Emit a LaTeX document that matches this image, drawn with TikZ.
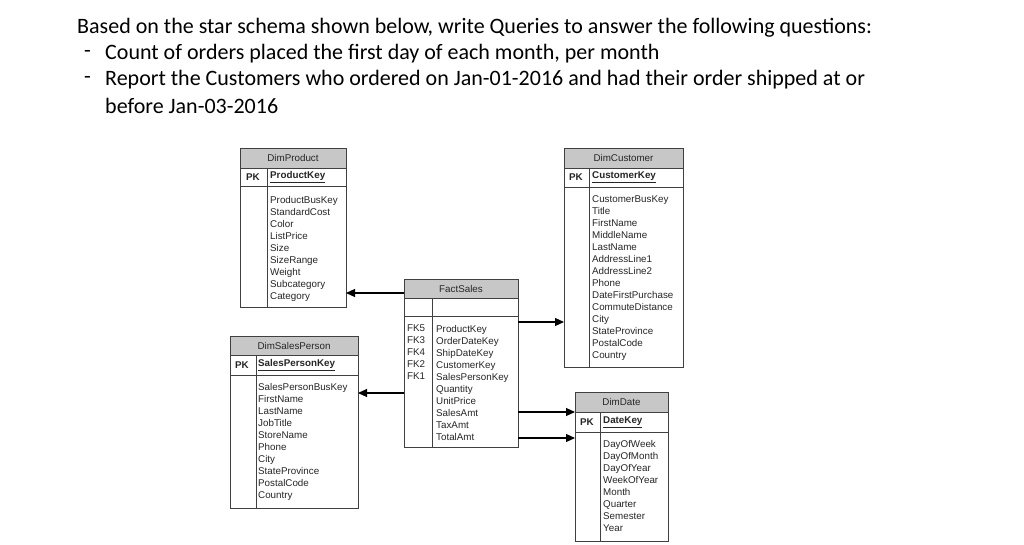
\documentclass[tikz,border=0pt]{standalone}
\usepackage{fontspec}
\setmainfont{Carlito}
\newfontfamily\tabfont{Liberation Sans}
\usetikzlibrary{arrows.meta}
\begin{document}
\begin{tikzpicture}[x=1pt,y=-1pt,
  box/.style={draw=black!75,line width=0.8pt},
  ttl/.style={box,fill=black!22},
  tt/.style={font=\tabfont\fontsize{9.8}{12}\selectfont,text=black!85,inner sep=0pt},
  tb/.style={tt,font=\tabfont\bfseries\fontsize{9.8}{12}\selectfont},
  body/.style={tt,anchor=north west,align=left},
  hd/.style={font=\fontsize{22}{26}\selectfont,anchor=west,inner sep=0pt},
  rel/.style={line width=1.1pt,-{Triangle[length=9pt,width=8pt]}}]
\useasboundingbox (0,0) rectangle (1024,544);
\fill[white] (0,0) rectangle (1024,544);
\node[hd] (h1) at (77,28) {Based on the star schema shown below, write Queries to answer the following questions:};
\node[hd] (d2) at (84,54) {-};
\node[hd] (h2) at (105,54) {Count of orders placed the first day of each month, per month};
\node[hd] (d3) at (84,80) {-};
\node[hd] (h3) at (105,80) {Report the Customers who ordered on Jan-01-2016 and had their order shipped at or};
\node[hd] (h4) at (105,106) {before Jan-03-2016};
\newcommand{\dimtable}[9]{%
  \draw[ttl] (#2,#5) rectangle (#3,#6);
  \draw[box] (#2,#6) rectangle (#3,#7);
  \draw[box] (#2,#7) rectangle (#3,#8);
  \draw[box] (#4,#6) -- (#4,#8);
  \node[tt] (#1) at ({(#2+#3)/2},{(#5+#6)/2}) {#9};
}
\dimtable{prod}{240}{346}{267}{148}{168}{186}{307}{DimProduct}
\node[tb] (prodpk) at (253,177) {PK};
\node[tb,anchor=west] (prodkey) at (270,177) {\underline{ProductKey}};
\node[body] (prodb) at (270,196) {ProductBusKey\\StandardCost\\Color\\ListPrice\\Size\\SizeRange\\Weight\\Subcategory\\Category};

\dimtable{fact}{404}{518}{432}{279}{298}{316}{447}{FactSales}
\node[body] (factfk) at (407,325) {FK5\\FK3\\FK4\\FK2\\FK1};
\node[body] (factb) at (436,325) {ProductKey\\OrderDateKey\\ShipDateKey\\CustomerKey\\SalesPersonKey\\Quantity\\UnitPrice\\SalesAmt\\TaxAmt\\TotalAmt};

\dimtable{sp}{230}{358}{256}{336}{355}{375}{508}{DimSalesPerson}
\node[tb] (sppk) at (242,365) {PK};
\node[tb,anchor=west] (spkey) at (258,365) {\underline{SalesPersonKey}};
\node[body] (spb) at (258,383) {SalesPersonBusKey\\FirstName\\LastName\\JobTitle\\StoreName\\Phone\\City\\StateProvince\\PostalCode\\Country};

\dimtable{cust}{564}{683}{589}{148}{168}{187}{367}{DimCustomer}
\node[tb] (custpk) at (576,177) {PK};
\node[tb,anchor=west] (custkey) at (592,177) {\underline{CustomerKey}};
\node[body] (custb) at (592,195) {CustomerBusKey\\Title\\FirstName\\MiddleName\\LastName\\AddressLine1\\AddressLine2\\Phone\\DateFirstPurchase\\CommuteDistance\\City\\StateProvince\\PostalCode\\Country};

\dimtable{date}{575}{668}{600}{392}{412}{432}{541}{DimDate}
\node[tb] (datepk) at (587,422) {PK};
\node[tb,anchor=west] (datekey) at (603,422) {\underline{DateKey}};
\node[body] (dateb) at (603,440) {DayOfWeek\\DayOfMonth\\DayOfYear\\WeekOfYear\\Month\\Quarter\\Semester\\Year};

\coordinate (f1) at (404,293); \coordinate (p1) at (346,293);
\coordinate (f2) at (404,393); \coordinate (p2) at (358,393);
\coordinate (f3) at (518,322); \coordinate (p3) at (564,322);
\coordinate (f4) at (518,412); \coordinate (p4) at (575,412);
\coordinate (f5) at (518,438); \coordinate (p5) at (575,438);
\foreach \i in {1,...,5} \draw[rel] (f\i) -- (p\i);
\end{tikzpicture}
\end{document}
